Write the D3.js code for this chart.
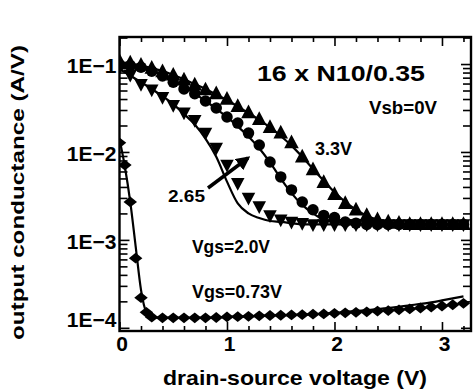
<!DOCTYPE html>
<html><head><meta charset="utf-8">
<script src="https://cdn.jsdelivr.net/npm/d3@7"></script>
<style>
body{margin:0;background:#fff}
svg{display:block}
text{font-family:"Liberation Sans",Arial,sans-serif;font-weight:bold;fill:#000}
</style>
</head><body>
<svg id="c" width="474" height="392"></svg>
<script>
// ---- data ----
const vds = [0,0.1,0.2,0.3,0.4,0.5,0.6,0.7,0.8,0.9,1.0,1.1,1.2,1.3,1.4,1.5,1.6,1.7,1.8,1.9,2.0,2.1,2.2,2.3,2.4,2.5,2.6,2.7,2.8,2.9,3.0,3.1,3.2];
// Vgs = 3.3 V (up triangles) measured, and model line
const g33Meas = [0.108,0.103,0.097,0.090,0.082,0.075,0.066,0.058,0.051,0.046,0.040,0.033,0.028,0.0235,0.0190,0.0165,0.0128,0.0088,0.0063,0.0045,0.0033,0.0026,0.0022,0.0019,0.0017,0.0016,0.00155,0.0015,0.0015,0.0015,0.0015,0.0015,0.0015];
const g33Model = [0.105,0.101,0.096,0.090,0.083,0.075,0.067,0.059,0.052,0.045,0.039,0.033,0.0278,0.0232,0.0190,0.0152,0.0118,0.0088,0.0064,0.0047,0.0035,0.0027,0.0022,0.00188,0.0017,0.0016,0.00155,0.0015,0.0015,0.0015,0.0015,0.0015,0.0015];
// Vgs = 2.65 V (circles)
const g265Meas = [0.098,0.096,0.092,0.083,0.073,0.062,0.052,0.046,0.038,0.0316,0.025,0.0213,0.0164,0.0120,0.0077,0.0052,0.0037,0.0027,0.0022,0.0019,0.0018,0.0016,0.00155,0.0015,0.0015,0.0015,0.0015,0.0015,0.0015,0.0015,0.0015,0.0015,0.0015];
const g265Model = [0.098,0.095,0.090,0.083,0.074,0.064,0.055,0.046,0.038,0.031,0.025,0.0195,0.0150,0.0110,0.0076,0.0050,0.0034,0.0025,0.0020,0.0017,0.0016,0.00155,0.0015,0.0015,0.0015,0.0015,0.0015,0.0015,0.0015,0.0015,0.0015,0.0015,0.0015];
// Vgs = 2.0 V (down triangles)
const g20Meas = [0.090,0.075,0.059,0.051,0.042,0.034,0.028,0.023,0.0164,0.0111,0.0071,0.0044,0.0030,0.0024,0.0019,0.0017,0.0016,0.00155,0.0015,0.0015,0.0015,0.0015,0.0015,0.0015,0.0015,0.0015,0.0015,0.0015,0.0015,0.0015,0.0015,0.0015,0.0015];
const g20Model = [0.088,0.074,0.062,0.052,0.043,0.035,0.027,0.0205,0.0142,0.0088,0.0046,0.0026,0.0020,0.00177,0.00164,0.0016,0.00155,0.0015,0.0015,0.0015,0.0015,0.0015,0.0015,0.0015,0.0015,0.0015,0.0015,0.0015,0.0015,0.0015,0.0015,0.0015,0.0015];
// Vgs = 0.73 V (diamonds)
const vds073 = [0,0.05,0.1,0.15,0.2,0.25,0.3,0.4,0.5,0.6,0.7,0.8,0.9,1.0,1.1,1.2,1.3,1.4,1.5,1.6,1.7,1.8,1.9,2.0,2.1,2.2,2.3,2.4,2.5,2.6,2.7,2.8,2.9,3.0,3.1,3.2];
const g073Meas = [0.0127,0.0071,0.0027,0.00062,0.00022,0.00015,0.000132,0.00013,0.00013,0.00013,0.00013,0.00013,0.000131,0.000133,0.000134,0.000135,0.000137,0.000138,0.000139,0.00014,0.000141,0.000143,0.000144,0.000146,0.000148,0.00015,0.000152,0.000155,0.000157,0.00016,0.000164,0.000168,0.000172,0.000177,0.000183,0.00019];
const g073Model = [0.014,0.0068,0.0027,0.00085,0.00027,0.00015,0.000132,0.00013,0.00013,0.00013,0.00013,0.00013,0.000131,0.000133,0.000134,0.000135,0.000137,0.000138,0.000139,0.00014,0.000141,0.000143,0.000145,0.000148,0.000151,0.000155,0.000159,0.000163,0.000168,0.000173,0.00018,0.000187,0.000195,0.000205,0.000216,0.000228];

const xMajor = [0,1,2,3];
const xMinor = [0.2,0.4,0.6,0.8,1.2,1.4,1.6,1.8,2.2,2.4,2.6,2.8,3.2];
const yMajor = [1e-4,1e-3,1e-2,1e-1];
const yLabels = ["1E\u22124","1E\u22123","1E\u22122","1E\u22121"];

// ---- chart ----
const svg = d3.select("#c");
const x = d3.scaleLinear().domain([0,3.27]).range([119.5,471]);
const y = d3.scaleLog().domain([0.92e-4,0.203]).range([331,37]);
const L = x.range()[0], R = x.range()[1], T = y.range()[1], B = y.range()[0];

svg.append("defs").append("clipPath").attr("id","clip")
  .append("rect").attr("x",L).attr("y",T).attr("width",R-L).attr("height",B-T);

// ticks
const yMinor = y.ticks().filter(v => !yMajor.some(m => Math.abs(v/m-1)<1e-6));
function tickAxis(axis, tr){
  const g = svg.append("g").attr("transform",tr).call(axis);
  g.select(".domain").remove();
  g.selectAll("line").attr("stroke","#000").attr("stroke-width",1.6);
  return g;
}
// bottom
const gb = tickAxis(d3.axisBottom(x).tickValues(xMajor).tickSize(-9).tickPadding(5).tickFormat(d3.format("d")), `translate(0,${B})`);
gb.selectAll("text").attr("font-size",21).attr("font-family","Liberation Sans, Arial").style("font-weight","bold").attr("dx",2);
tickAxis(d3.axisBottom(x).tickValues(xMinor).tickSize(-5).tickFormat(""), `translate(0,${B})`);
// top
tickAxis(d3.axisTop(x).tickValues(xMajor).tickSize(-9).tickFormat(""), `translate(0,${T})`);
tickAxis(d3.axisTop(x).tickValues(xMinor).tickSize(-5).tickFormat(""), `translate(0,${T})`);
// left
const gl = tickAxis(d3.axisLeft(y).tickValues(yMajor).tickSize(-10).tickPadding(3).tickFormat((d,i)=>yLabels[i]), `translate(${L},0)`);
gl.selectAll("text").attr("font-size",21).attr("font-family","Liberation Sans, Arial")
  .style("font-weight","bold").attr("dy",(d,i)=> i===0 ? "-0.05em" : "0.42em");
tickAxis(d3.axisLeft(y).tickValues(yMinor).tickSize(-8).tickFormat(""), `translate(${L},0)`);
// right
tickAxis(d3.axisRight(y).tickValues(yMajor).tickSize(-10).tickFormat(""), `translate(${R},0)`);
tickAxis(d3.axisRight(y).tickValues(yMinor).tickSize(-8).tickFormat(""), `translate(${R},0)`);

// frame
svg.append("rect").attr("x",L).attr("y",T).attr("width",R-L).attr("height",B-T)
  .attr("fill","none").attr("stroke","#000").attr("stroke-width",2.4);

// curves
const plot = svg.append("g").attr("clip-path","url(#clip)");
const line = d3.line().x(d=>x(d[0])).y(d=>y(d[1])).curve(d3.curveMonotoneX);
const series = [
  {xs:vds, model:g33Model, meas:g33Meas, sym:"up", size:14},
  {xs:vds, model:g265Model, meas:g265Meas, sym:"circle", size:11.5},
  {xs:vds, model:g20Model, meas:g20Meas, sym:"down", size:13},
  {xs:vds073, model:g073Model, meas:g073Meas, sym:"diamond", size:13.5}
];
const symTypes = {
  up: {draw(c,s){c.moveTo(0,-s*0.58);c.lineTo(s*0.52,s*0.40);c.lineTo(-s*0.52,s*0.40);c.closePath();}},
  down: {draw(c,s){c.moveTo(0,s*0.58);c.lineTo(s*0.52,-s*0.40);c.lineTo(-s*0.52,-s*0.40);c.closePath();}},
  circle: {draw(c,s){c.moveTo(s/2,0);c.arc(0,0,s/2,0,2*Math.PI);}},
  diamond: {draw(c,s){c.moveTo(0,-s*0.4);c.lineTo(s*0.5,0);c.lineTo(0,s*0.4);c.lineTo(-s*0.5,0);c.closePath();}}
};
series.forEach(s=>{
  const pts = s.xs.map((v,i)=>[v,s.model[i]]);
  plot.append("path").attr("d",line(pts)).attr("fill","none").attr("stroke","#000").attr("stroke-width",2.2);
});
series.forEach(s=>{
  const pts = s.xs.map((v,i)=>[v,s.meas[i]]);
  const sym = d3.symbol().type(symTypes[s.sym]).size(s.size);
  plot.append("g").selectAll("path").data(pts).join("path")
    .attr("transform",d=>`translate(${x(d[0])},${y(d[1])})`)
    .attr("d",sym).attr("fill","#000");
});

// annotations
function label(txt,xp,yp,size,len,anchor){
  const t = svg.append("text").attr("x",xp).attr("y",yp).attr("font-size",size).text(txt);
  if(len) t.attr("textLength",len).attr("lengthAdjust","spacingAndGlyphs");
  if(anchor) t.attr("text-anchor",anchor);
  return t;
}
label("16 x N10/0.35",257,81,22,168);
label("Vsb=0V",369,114,18,68);
label("3.3V",315,155,18,37);
label("2.65",168,202,17,37);
label("Vgs=2.0V",192,253,18,78);
label("Vgs=0.73V",192,298,18,90);
// arrow
svg.append("defs").append("marker").attr("id","ah").attr("viewBox","0 0 10 10")
  .attr("refX",8).attr("refY",5).attr("markerWidth",4).attr("markerHeight",4).attr("orient","auto")
  .append("path").attr("d","M0,0L10,5L0,10z").attr("fill","#000");
svg.append("line").attr("x1",208).attr("y1",188).attr("x2",248).attr("y2",158)
  .attr("stroke","#000").attr("stroke-width",3.5).attr("marker-end","url(#ah)");

// axis titles
label("drain-source voltage (V)",163,385,21,264);
svg.append("text").attr("transform","translate(24,340) rotate(-90)").attr("font-size",18)
  .attr("textLength",295).attr("lengthAdjust","spacingAndGlyphs").text("output conductance (A/V)");
</script>
</body></html>
